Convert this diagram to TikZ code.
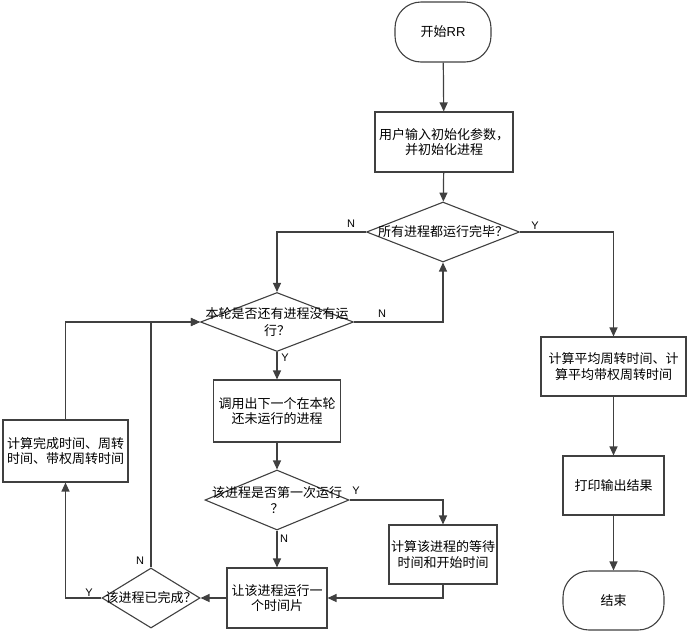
\documentclass[tikz,border=0pt]{standalone}
\usepackage{fontspec}
\setmainfont{Liberation Sans}
\newfontfamily\cjk{Noto Sans CJK SC}
\usetikzlibrary{arrows.meta,shapes.geometric}
\begin{document}
\begin{tikzpicture}[x=1pt,y=-1pt,
  ln/.style={draw=black!75,line width=1.2pt},
  arr/.style={ln,-{Triangle[length=9pt,width=8pt]}},
  box/.style={draw=black!75,line width=1.1pt,rectangle,inner sep=0pt,align=center,
     font=\cjk\fontsize{13}{15.5}\selectfont},
  term/.style={box,rounded corners=26pt},
  dia/.style={draw=black!75,line width=1.1pt,diamond,inner sep=0pt},
  dtxt/.style={inner sep=0pt,align=center,font=\cjk\fontsize{13}{16.5}\selectfont},
  lab/.style={inner sep=0pt,font=\fontsize{11}{13}\selectfont}]
\useasboundingbox (0,0) rectangle (690,635);
\node[term,minimum width=96pt,minimum height=60pt] (start) at (443,32) {开始{\rmfamily RR}};
\node[box,minimum width=138pt,minimum height=60pt] (b1) at (444,142) {用户输入初始化参数，\\并初始化进程};
\node[dia,minimum width=153pt,minimum height=60pt] (d1) at (443,232) {};
\node[dtxt] (t1) at (d1) {所有进程都运行完毕？};
\node[dia,minimum width=153pt,minimum height=59pt] (d2) at (277,322) {};
\node[dtxt] (t2) at (277,322) {本轮是否还有进程没有运\\行？};
\node[box,minimum width=127pt,minimum height=62pt] (b3) at (277,411) {调用出下一个在本轮\\还未运行的进程};
\node[dia,minimum width=144pt,minimum height=60pt] (d3) at (277,500) {};
\node[dtxt] (t3) at (277,500) {该进程是否第一次运行\\？};
\node[box,minimum width=108pt,minimum height=59pt] (b5) at (443,554.5) {计算该进程的等待\\时间和开始时间};
\node[box,minimum width=100pt,minimum height=60pt] (b4) at (277,598) {让该进程运行一\\个时间片};
\node[dia,minimum width=98pt,minimum height=60pt] (d4) at (151,598) {};
\node[dtxt] (t4) at (151,598) {该进程已完成？};
\node[box,minimum width=125pt,minimum height=62pt] (b6) at (65.5,451) {计算完成时间、周转\\时间、带权周转时间};
\node[box,minimum width=145pt,minimum height=59pt] (b7) at (613.5,366.5) {计算平均周转时间、计\\算平均带权周转时间};
\node[box,minimum width=101pt,minimum height=59pt] (b8) at (613.5,485.5) {打印输出结果};
\node[term,minimum width=101pt,minimum height=59pt] (end) at (613.5,600.5) {结束};
% connectors
\draw[arr] (start) -- (b1);
\draw[arr] (b1) -- (d1);
\draw[arr] (d1.west) -| (d2.north);
\draw[arr] (d1.east) -| (b7.north);
\draw[arr] (d2.east) -| (d1.south);
\draw[arr] (d2.south) -- (b3.north);
\draw[arr] (b3.south) -- (d3.north);
\draw[arr] (d3.east) -| (b5.north);
\draw[arr] (d3.south) -- (b4.north);
\draw[arr] (b5.south) |- (b4.east);
\draw[arr] (b4.west) -- (d4.east);
\draw[arr] (d4.west) -| (b6.south);
\draw[arr] (d4.north) |- (d2.west);
\draw[arr] (b6.north) |- (d2.west);
\draw[arr] (b7.south) -- (b8.north);
\draw[arr] (b8.south) -- (end.north);
% labels
\node[lab] (ln1) at (351,224) {N};
\node[lab] (ly1) at (535,226) {Y};
\node[lab] (ln2) at (382,314) {N};
\node[lab] (ly2) at (285,358) {Y};
\node[lab] (ly3) at (356,491) {Y};
\node[lab] (ln3) at (284,539) {N};
\node[lab] (ln4) at (140,561) {N};
\node[lab] (ly4) at (89,593) {Y};
\end{tikzpicture}
\end{document}
